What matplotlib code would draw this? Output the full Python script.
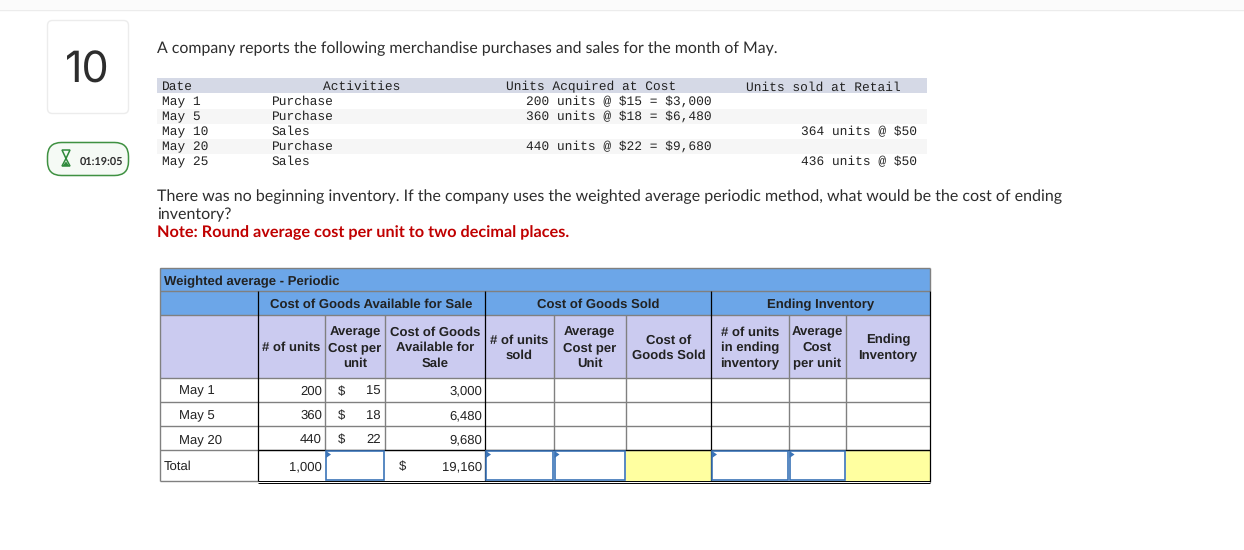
import matplotlib
matplotlib.use('Agg')
import matplotlib.pyplot as plt
from matplotlib.patches import Rectangle, FancyBboxPatch, Polygon

plt.rcParams['text.hinting'] = 'no_hinting'
plt.rcParams['text.parse_math'] = False

# DATA
question_no = '10'
timer_text = '01:19:05'
intro = 'A company reports the following merchandise purchases and sales for the month of May.'
body_lines = ['There was no beginning inventory. If the company uses the weighted average periodic method, what would be the cost of ending',
              'inventory?']
note = 'Note: Round average cost per unit to two decimal places.'

mono_headers = ['Date', 'Activities', 'Units Acquired at Cost', 'Units sold at Retail']
mono_dates = ['May 1', 'May 5', 'May 10', 'May 20', 'May 25']
mono_activity = ['Purchase', 'Purchase', 'Sales', 'Purchase', 'Sales']
mono_acquired = ['200 units @ $15 = $3,000', '360 units @ $18 = $6,480', '', '440 units @ $22 = $9,680', '']
mono_sold = ['', '', '364 units @ $50', '', '436 units @ $50']

table_title = 'Weighted average - Periodic'
group_headers = ['Cost of Goods Available for Sale', 'Cost of Goods Sold', 'Ending Inventory']
col_headers = ['', '# of units', 'Average\nCost per\nunit', 'Cost of Goods\nAvailable for\nSale',
               '# of units\nsold', 'Average\nCost per\nUnit', 'Cost of\nGoods Sold',
               '# of units\nin ending\ninventory', 'Average\nCost\nper unit', 'Ending\nInventory']
row_dates = ['May 1', 'May 5', 'May 20']
row_units = ['200', '360', '440']
row_cost = ['15', '18', '22']
row_avail = ['3,000', '6,480', '9,680']
total_label = 'Total'
total_units = '1,000'
total_avail = '19,160'

# LAYOUT (pixels)
col_x = [160, 258, 325, 385, 485, 553.5, 626, 711, 788.5, 846, 930]
row_y = [268, 291, 315, 377.5, 402, 426, 450, 481]
mono_rows = [101.5, 116.5, 131.5, 146.5, 161.5]

BODY = 'Lato'
TABLE = 'Liberation Sans'
MONO = 'Liberation Mono'
INK = '#2d2d2d'
BLUE = '#6ca6e8'
LILAC = '#cbcbf0'
GREY = '#808080'
INPUT = '#3b74b8'

fig = plt.figure(figsize=(12.44, 5.5), dpi=100)
ax = fig.add_axes([0, 0, 1, 1])
ax.set_xlim(0, 1244)
ax.set_ylim(550, 0)
ax.axis('off')

def rect(x0, y0, x1, y1, fc, ec='none', lw=0, z=1):
    ax.add_patch(Rectangle((x0, y0), x1 - x0, y1 - y0, facecolor=fc, edgecolor=ec, linewidth=lw, zorder=z))

def txt(x, y, s, size, ha='left', va='center', font=TABLE, color='#222222', weight='normal', **kw):
    ax.text(x, y, s, fontsize=size, ha=ha, va=va, family=font, color=color, weight=weight, zorder=6, **kw)

# top strip
rect(0, 0, 1244, 9, '#fbfbfb')
ax.plot([0, 1244], [9.5, 9.5], color='#ececec', lw=1)

# question number box and timer
ax.add_patch(FancyBboxPatch((47.5, 20.5), 81, 93, boxstyle='round,pad=0,rounding_size=5',
                            fc='white', ec='#ececec', lw=1))
txt(87.5, 71.5, question_no, 31, ha='center', font='Inter', color=INK)
ax.add_patch(FancyBboxPatch((47.5, 142.5), 81, 33, boxstyle='round,pad=0,rounding_size=14',
                            fc='#f5faf5', ec='#3f9142', lw=1.1))
ax.add_patch(Polygon([(62, 150), (70, 150), (66, 158.5), (70, 166), (62, 166), (66, 158.5)],
                     closed=True, fc='none', ec='#2f8a3c', lw=1.1, zorder=5))
ax.add_patch(Polygon([(62.5, 166), (69.5, 166), (66, 161.5)], closed=True, fc='#2f8a3c', ec='none', zorder=5))
txt(79.5, 161.5, timer_text, 7.8, font=BODY, color=INK, weight='bold')

# question text
txt(157, 48.5, intro, 11.45, font=BODY, color=INK)
txt(157, 196.5, body_lines[0], 11.52, font=BODY, color=INK)
txt(157, 214.5, body_lines[1], 11.52, font=BODY, color=INK)
txt(157, 232.5, note, 11.7, font=BODY, color='#c00000', weight='bold')

# monospace purchases table
MS = 9.3
rect(157, 78, 927, 93, '#d5d9e6')
for y in (116, 146):
    rect(157, y - 7.5, 927, y + 7.5, '#f6f6f6')
txt(162, 87, mono_headers[0], MS, font=MONO)
txt(362, 87, mono_headers[1], MS, ha='center', font=MONO)
txt(506, 87, mono_headers[2], MS, font=MONO)
txt(746, 87, mono_headers[3], MS, font=MONO)
for i, y in enumerate(mono_rows):
    txt(162, y, mono_dates[i], MS, font=MONO)
    txt(272, y, mono_activity[i], MS, font=MONO)
    txt(712, y, mono_acquired[i], MS, ha='right', font=MONO)
    txt(917, y, mono_sold[i], MS, ha='right', font=MONO)

# worksheet fills
rect(col_x[0], row_y[0], col_x[-1], row_y[2], BLUE)
rect(col_x[0], row_y[2], col_x[-1], row_y[3], LILAC)
rect(col_x[6], row_y[6], col_x[7], row_y[7], '#ffffa0')
rect(col_x[9], row_y[6], col_x[10], row_y[7], '#ffffa0')

# grid lines
def hline(y, x0=col_x[0], x1=col_x[-1], c=GREY, lw=1.0, z=3):
    ax.plot([x0, x1], [y, y], color=c, lw=lw, zorder=z, solid_capstyle='butt')

def vline(x, y0, y1, c=GREY, lw=1.0, z=3):
    ax.plot([x, x], [y0, y1], color=c, lw=lw, zorder=z, solid_capstyle='butt')

for y in row_y[:7]:
    hline(y)
hline(row_y[7], col_x[0], col_x[1])
vline(col_x[0], row_y[0], row_y[7])
vline(col_x[-1], row_y[0], row_y[1])
for k in (2, 3, 5, 6, 8, 9):
    vline(col_x[k], row_y[2], row_y[6])
for k in (1, 4, 7):
    vline(col_x[k], row_y[1], row_y[7], c='black', lw=0.9)
vline(col_x[-1], row_y[1], row_y[7] + 1, c='black', lw=0.9)
hline(row_y[6], col_x[1], col_x[-1], c='black', lw=0.9)
hline(row_y[7] - 0.5, col_x[1], col_x[-1], c='black', lw=0.7)
hline(row_y[7] + 1.5, col_x[1], col_x[-1], c='black', lw=0.7)

# input cells with the little corner flag
for k in (2, 4, 5, 7, 8):
    x0, x1 = col_x[k] + 1, col_x[k + 1] - 1
    rect(x0, row_y[6] + 1, x1, row_y[7] - 1, 'white', ec=INPUT, lw=1.2, z=4)
    ax.add_patch(Polygon([(x0, row_y[6] + 1), (x0 + 5, row_y[6] + 4.5), (x0, row_y[6] + 8)],
                         closed=True, fc=INPUT, ec='none', zorder=5))

# worksheet text
txt(164, 281.5, table_title, 9.45, weight='bold')
for k, head in zip((1, 4, 7), group_headers):
    end = {1: 4, 4: 7, 7: 10}[k]
    txt((col_x[k] + col_x[end]) / 2, 304.5, head, 9.45, ha='center', weight='bold')
for k, head in enumerate(col_headers):
    if head:
        txt((col_x[k] + col_x[k + 1]) / 2, 348, head, 9.45, ha='center', weight='bold', linespacing=1.38)

for i in range(3):
    y = (row_y[3 + i] + row_y[4 + i]) / 2 + 1.5
    txt(179, y, row_dates[i], 9.45)
    txt(322, y, row_units[i], 9.45, ha='right')
    txt(342, y, '$', 9.45, ha='center')
    txt(381, y, row_cost[i], 9.45, ha='right')
    txt(482, y, row_avail[i], 9.45, ha='right')

y = (row_y[6] + row_y[7]) / 2 + 1.5
txt(164, y, total_label, 9.45)
txt(322, y, total_units, 9.45, ha='right')
txt(403, y, '$', 9.45, ha='center')
txt(482, y, total_avail, 9.45, ha='right')

fig.savefig('out.png', dpi=100)
